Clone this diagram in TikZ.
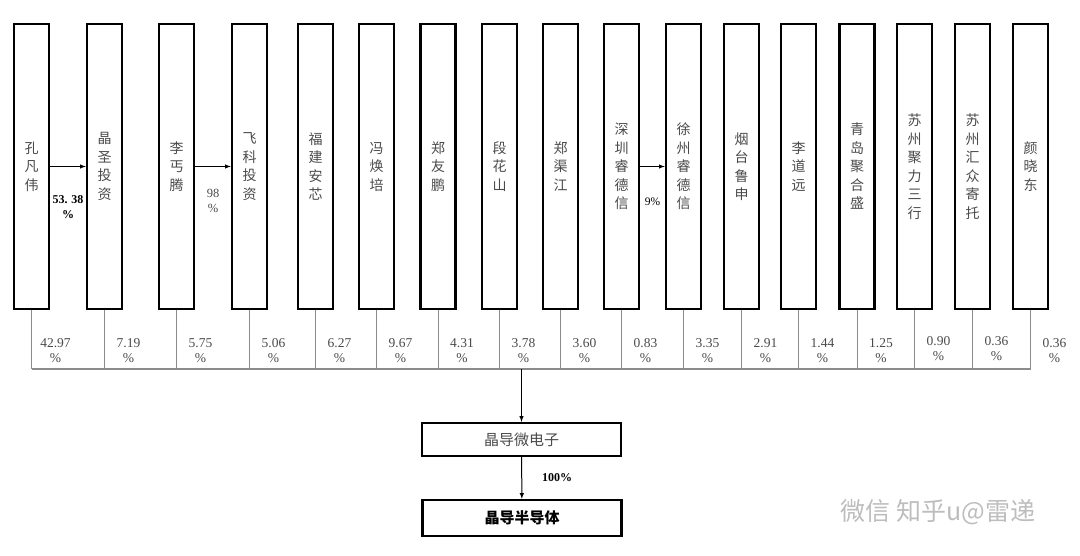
\documentclass[tikz,border=0pt]{standalone}
\usepackage{fontspec}
\setmainfont{Liberation Serif}
\newfontfamily\cjk{Noto Sans CJK SC}
\usepackage{tikz}
\usetikzlibrary{arrows}
\usetikzlibrary{positioning}
\definecolor{txtgray}{HTML}{4A4A4A}
\definecolor{linegray}{HTML}{8C8C8C}
\definecolor{wmgray}{HTML}{BDBDBD}

\begin{document}
\begin{tikzpicture}[x=1pt,y=-1pt,
  holder/.style={draw,line width=2.4pt,minimum width=35pt,minimum height=285pt,inner sep=0pt,
    align=center,text=txtgray,font=\cjk\fontsize{14}{18.5}\selectfont},
  firm/.style={draw,line width=2.2pt,minimum width=199pt,inner sep=0pt,font=\cjk\fontsize{15}{17}\selectfont},
  pct/.style={align=center,text=txtgray,inner sep=0pt,xshift=24pt,font=\fontsize{13.5}{15.5}\selectfont},
  share/.style={align=center,inner sep=0pt,font=\bfseries\fontsize{12}{15}\selectfont},
  feed/.style={linegray,line width=1pt},
  own/.style={-latex,line width=1pt}]
  \useasboundingbox (0,0) rectangle (1080,555);

  \node[holder] (1) at (31.5,166.5) {孔\\凡\\伟};
  \node[holder] (2) at (104.5,166.5) {晶\\圣\\投\\资};
  \node[holder] (3) at (176.5,166.5) {李\\丐\\腾};
  \node[holder] (4) at (249.5,166.5) {飞\\科\\投\\资};
  \node[holder] (5) at (315.5,166.5) {福\\建\\安\\芯};
  \node[holder] (6) at (376.5,166.5) {冯\\焕\\培};
  \node[holder] (7) at (438,166.5) {郑\\友\\鹏};
  \node[holder] (8) at (499.5,166.5) {段\\花\\山};
  \node[holder] (9) at (560.5,166.5) {郑\\渠\\江};
  \node[holder] (10) at (621.5,166.5) {深\\圳\\睿\\德\\信};
  \node[holder] (11) at (683.5,166.5) {徐\\州\\睿\\德\\信};
  \node[holder] (12) at (741.5,166.5) {烟\\台\\鲁\\申};
  \node[holder] (13) at (798.5,166.5) {李\\道\\远};
  \node[holder] (14) at (857,166.5) {青\\岛\\聚\\合\\盛};
  \node[holder] (15) at (914.5,166.5) {苏\\州\\聚\\力\\三\\行};
  \node[holder] (16) at (972.5,166.5) {苏\\州\\汇\\众\\寄\\托};
  \node[holder] (17) at (1030.5,166.5) {颜\\晓\\东};

  \node[firm,minimum height=33pt,text=txtgray] (18) at (521.5,439.5) {晶导微电子};
  \node[firm,minimum height=36pt,font=\cjk\bfseries\fontsize{15}{17}\selectfont] (19) at (522,518) {晶导半导体};

  \coordinate (bus) at (0,369);
  \coordinate (row) at (0,350.5);

  \node[pct] (p1) at (1.south |- row) {42.97\\\%};
  \node[pct] (p2) at (2.south |- row) {7.19\\\%};
  \node[pct] (p3) at (3.south |- row) {5.75\\\%};
  \node[pct] (p4) at (4.south |- row) {5.06\\\%};
  \node[pct] (p5) at (5.south |- row) {6.27\\\%};
  \node[pct] (p6) at (6.south |- row) {9.67\\\%};
  \node[pct] (p7) at (7.south |- row) {4.31\\\%};
  \node[pct] (p8) at (8.south |- row) {3.78\\\%};
  \node[pct] (p9) at (9.south |- row) {3.60\\\%};
  \node[pct] (p10) at (10.south |- row) {0.83\\\%};
  \node[pct] (p11) at (11.south |- row) {3.35\\\%};
  \node[pct] (p12) at (12.south |- row) {2.91\\\%};
  \node[pct] (p13) at (13.south |- row) {1.44\\\%};
  \node[pct] (p14) at (14.south |- row) {1.25\\\%};
  \node[pct,yshift=2pt] (p15) at (15.south |- row) {0.90\\\%};
  \node[pct,yshift=2pt] (p16) at (16.south |- row) {0.36\\\%};
  \node[pct] (p17) at (17.south |- row) {0.36\\\%};

  \draw[feed](1.south)--(1.south |- bus) (2.south)--(2.south |- bus) (3.south)--(3.south |- bus)
    (4.south)--(4.south |- bus) (5.south)--(5.south |- bus) (6.south)--(6.south |- bus)
    (7.south)--(7.south |- bus) (8.south)--(8.south |- bus) (9.south)--(9.south |- bus)
    (10.south)--(10.south |- bus) (11.south)--(11.south |- bus) (12.south)--(12.south |- bus)
    (13.south)--(13.south |- bus) (14.south)--(14.south |- bus) (15.south)--(15.south |- bus)
    (16.south)--(16.south |- bus) (17.south)--(17.south |- bus);
  \draw[feed,line width=1.6pt](1.south |- bus)--(17.south |- bus);

  \draw[own](1)--node[share,below=29pt]{53. 38\\\%}(2);
  \draw[own](3)--node[share,below=22pt,text=txtgray,font=\fontsize{12.5}{15}\selectfont]{98\\\%}(4);
  \draw[own](10)--node[share,below=31pt,font=\fontsize{11.5}{13}\selectfont]{9\%}(11);

  \draw[own](18.north |- bus)--(18.north);
  \draw[own](18)--node[share,right=20pt]{100\%}(19);

  \node[text=wmgray,font=\cjk\fontsize{25}{27}\selectfont] (wm) at (938,512) {微信\ 知乎u@雷递};
\end{tikzpicture}
\end{document}
